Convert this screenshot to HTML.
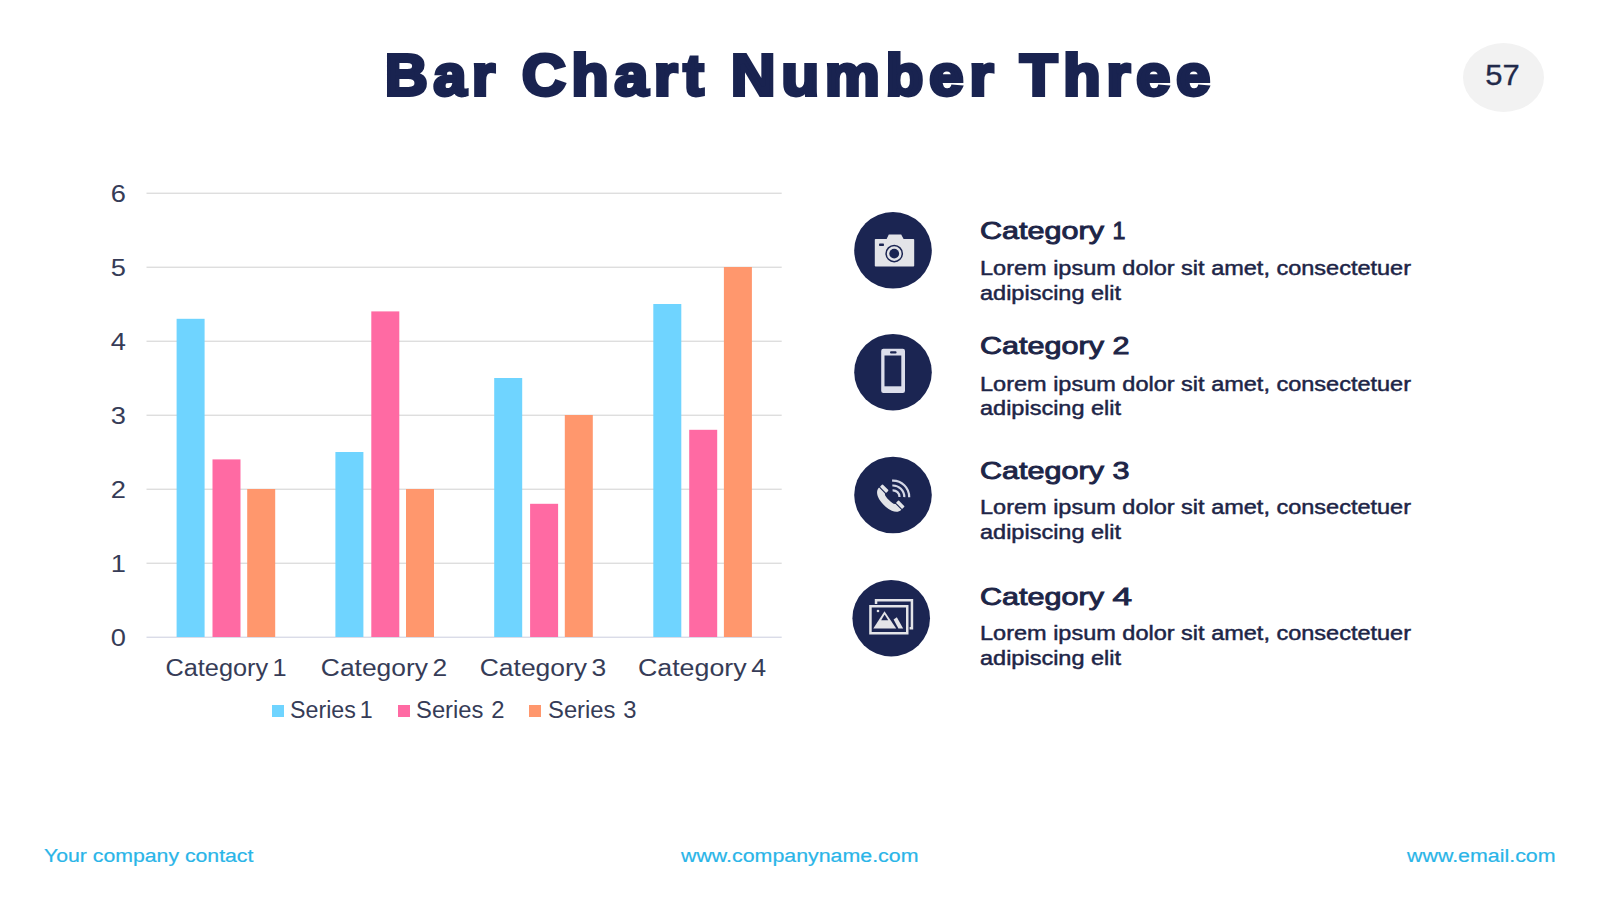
<!DOCTYPE html>
<html lang="en">
<head>
<meta charset="utf-8">
<title>Bar Chart Number Three</title>
<style>
html,body{margin:0;padding:0;background:#fff;}
body{width:1600px;height:900px;position:relative;overflow:hidden;font-family:"Liberation Sans",sans-serif;color:#1d2547;}
.abs{position:absolute;white-space:nowrap;line-height:1;}
.chart{position:absolute;left:0;top:0;}
.title{top:47.2px;transform-origin:0 0;font-size:57px;font-weight:bold;letter-spacing:5.6px;color:#192350;-webkit-text-stroke:3.8px #192350;}
.pagenum{left:1463px;top:42.5px;width:81px;height:69px;border-radius:50%;background:#f2f2f2;}
.pn{left:1461.7px;width:81px;top:60.4px;text-align:center;font-size:29.5px;color:#222a4a;transform:scaleX(1.05);-webkit-text-stroke:0.3px #222a4a;}
.ylab{width:40px;left:86.2px;text-align:right;font-size:23.5px;color:#363c57;transform-origin:100% 50%;transform:scaleX(1.16);}
.xlab{font-size:23.5px;color:#363c57;text-align:center;width:160px;top:657px;transform:scaleX(1.09);word-spacing:-2.5px;}
.leg{font-size:23px;color:#363c57;top:699px;word-spacing:-3px;transform-origin:0 50%;}
.sw{position:absolute;width:12px;height:12px;top:704.5px;}
.h{left:980px;font-size:23.5px;transform-origin:0 0;transform:scaleX(1.30);-webkit-text-stroke:0.9px #1d2547;}
.h span{display:inline-block;transform-origin:0 50%;}
.p{left:980px;font-size:19.5px;line-height:24.7px;transform-origin:0 0;transform:scaleX(1.205);-webkit-text-stroke:0.45px #1d2547;}
.foot{font-size:18px;color:#2ab5e8;top:846.5px;transform-origin:0 0;-webkit-text-stroke:0.2px #2ab5e8;}
</style>
</head>
<body>
<svg class="chart" width="1600" height="900" viewBox="0 0 1600 900">
<rect x="146.5" y="636.60" width="635.2" height="1.3" fill="#d6d9e6"/>
<rect x="146.5" y="562.60" width="635.2" height="1.3" fill="#dbdbdb"/>
<rect x="146.5" y="488.60" width="635.2" height="1.3" fill="#dbdbdb"/>
<rect x="146.5" y="414.60" width="635.2" height="1.3" fill="#dbdbdb"/>
<rect x="146.5" y="340.60" width="635.2" height="1.3" fill="#dbdbdb"/>
<rect x="146.5" y="266.60" width="635.2" height="1.3" fill="#dbdbdb"/>
<rect x="146.5" y="192.60" width="635.2" height="1.3" fill="#dbdbdb"/>
<rect x="176.6" y="318.8" width="28.0" height="318.2" fill="#6fd4ff"/>
<rect x="212.5" y="459.4" width="28.0" height="177.6" fill="#ff6aa3"/>
<rect x="247.2" y="489.0" width="28.0" height="148.0" fill="#ff976d"/>
<rect x="335.4" y="452.0" width="28.0" height="185.0" fill="#6fd4ff"/>
<rect x="371.3" y="311.4" width="28.0" height="325.6" fill="#ff6aa3"/>
<rect x="406.0" y="489.0" width="28.0" height="148.0" fill="#ff976d"/>
<rect x="494.2" y="378.0" width="28.0" height="259.0" fill="#6fd4ff"/>
<rect x="530.1" y="503.8" width="28.0" height="133.2" fill="#ff6aa3"/>
<rect x="564.8" y="415.0" width="28.0" height="222.0" fill="#ff976d"/>
<rect x="653.3" y="304.0" width="28.0" height="333.0" fill="#6fd4ff"/>
<rect x="689.2" y="429.8" width="28.0" height="207.2" fill="#ff6aa3"/>
<rect x="723.9" y="267.0" width="28.0" height="370.0" fill="#ff976d"/>
<ellipse cx="893" cy="250.3" rx="38.8" ry="38.3" fill="#1b2552"/>
<ellipse cx="893" cy="372.2" rx="38.8" ry="38.3" fill="#1b2552"/>
<ellipse cx="893" cy="495" rx="38.8" ry="38.3" fill="#1b2552"/>
<ellipse cx="891.2" cy="618.2" rx="38.8" ry="38.3" fill="#1b2552"/>
<path d="M875.6 239 H886.6 L888.8 234.4 H901.2 L903.6 239 H913.4 Q914.2 239 914.2 239.8 V265.7 Q914.2 266.5 913.4 266.5 H875.6 Q874.8 266.5 874.8 265.7 V239.8 Q874.8 239 875.6 239 Z" fill="#e3e4e8"/>
<circle cx="894.2" cy="253.6" r="8.1" fill="none" stroke="#1b2552" stroke-width="1.5"/>
<circle cx="894.2" cy="253.6" r="4.9" fill="#1b2552"/>
<rect x="879" y="243.4" width="5" height="2.6" rx="0.8" fill="#1b2552"/>
<rect x="881.2" y="348.8" width="23.8" height="44.2" rx="2.2" fill="#dcdeeb"/>
<rect x="884.5" y="355.5" width="16.8" height="30.8" fill="#1b2552"/>
<rect x="890" y="351.3" width="6.6" height="2.2" rx="1.1" fill="#1b2552"/>
<g transform="translate(888.9 500.0) rotate(45) scale(0.85)" fill="#e3e4e8"><path d="M-18.5 -2.2 C-18.5 5.5 -9 8.4 0 8.4 C9 8.4 18.5 5.5 18.5 -2.2 L8.8 -2.2 C7.6 -0.2 4 0 0 0 C-4 0 -7.6 -0.2 -8.8 -2.2 Z"/><rect x="-18.5" y="-7.8" width="10.3" height="4.3" rx="0.9"/><rect x="8.2" y="-7.8" width="10.3" height="4.3" rx="0.9"/></g>
<path d="M892.57 490.30 A6.6 6.6 0 0 1 899.50 497.03" fill="none" stroke="#d4d7e6" stroke-width="2.2"/>
<path d="M892.33 485.50 A11.4 11.4 0 0 1 904.30 497.13" fill="none" stroke="#d4d7e6" stroke-width="2.2"/>
<path d="M892.08 480.60 A16.3 16.3 0 0 1 909.20 497.23" fill="none" stroke="#d4d7e6" stroke-width="2.2"/>
<path d="M874.8 599 H913.2 V629.5 H909.6 V627 H910.7 V601.5 H877.3 V604 H874.8 Z" fill="#e3e4e8"/>
<rect x="870.45" y="606.25" width="36.8" height="27" fill="none" stroke="#e3e4e8" stroke-width="2.5"/>
<path d="M884.5 611.2 L896.2 628.6 H873.3 Z" fill="#e3e4e8"/>
<path d="M884.6 614.6 L888.2 620.2 H881.2 Z" fill="#1b2552"/>
<path d="M893.6 619.6 L896.8 617.2 L903.2 628.6 H898.4 Z" fill="#e3e4e8"/>
<circle cx="878" cy="611" r="1.3" fill="#e3e4e8"/>
</svg>
<div class="abs title" style="left:384.56px;transform:scaleX(1.0354)">Bar </div><div class="abs title" style="left:521.80px;transform:scaleX(1.0611)">Chart </div><div class="abs title" style="left:730.65px;transform:scaleX(1.0782)">Number </div><div class="abs title" style="left:1019.52px;transform:scaleX(1.0712)">Three</div>
<div class="abs pagenum"></div>
<div class="abs pn">57</div>
<div class="abs ylab" style="top:626.8px">0</div>
<div class="abs ylab" style="top:552.8px">1</div>
<div class="abs ylab" style="top:478.8px">2</div>
<div class="abs ylab" style="top:404.8px">3</div>
<div class="abs ylab" style="top:330.8px">4</div>
<div class="abs ylab" style="top:256.8px">5</div>
<div class="abs ylab" style="top:182.8px">6</div>
<div class="abs xlab" style="left:145.5px;transform:scaleX(1.077)">Category 1</div>
<div class="abs xlab" style="left:303.6px;transform:scaleX(1.123)">Category 2</div>
<div class="abs xlab" style="left:462.8px;transform:scaleX(1.125)">Category 3</div>
<div class="abs xlab" style="left:622.0px;transform:scaleX(1.14)">Category 4</div>
<div class="sw" style="left:271.7px;background:#6fd4ff"></div><div class="abs leg" style="left:290px;word-spacing:-2.6px;transform:scaleX(1.01)">Series 1</div>
<div class="sw" style="left:397.8px;background:#ff6aa3"></div><div class="abs leg" style="left:416px;word-spacing:1.2px;transform:scaleX(1.035)">Series 2</div>
<div class="sw" style="left:528.6px;background:#ff976d"></div><div class="abs leg" style="left:547.5px;word-spacing:1.2px;transform:scaleX(1.035)">Series 3</div>
<div class="abs h" style="top:219.8px">Category <span style="transform:scaleX(0.76)">1</span></div>
<div class="abs p" style="top:256.1px">Lorem ipsum dolor sit amet, consectetuer<br>adipiscing elit</div>
<div class="abs h" style="top:334.9px">Category <span style="transform:scaleX(1.0)">2</span></div>
<div class="abs p" style="top:371.5px">Lorem ipsum dolor sit amet, consectetuer<br>adipiscing elit</div>
<div class="abs h" style="top:460.1px">Category <span style="transform:scaleX(1.0)">3</span></div>
<div class="abs p" style="top:495.0px">Lorem ipsum dolor sit amet, consectetuer<br>adipiscing elit</div>
<div class="abs h" style="top:585.9px">Category <span style="transform:scaleX(1.15)">4</span></div>
<div class="abs p" style="top:621.1px">Lorem ipsum dolor sit amet, consectetuer<br>adipiscing elit</div>
<div class="abs foot" style="left:44px;transform:scaleX(1.18)">Your company contact</div>
<div class="abs foot" style="left:681px;transform:scaleX(1.187)">www.companyname.com</div>
<div class="abs foot" style="left:1407.3px;transform:scaleX(1.188)">www.email.com</div>
</body>
</html>
